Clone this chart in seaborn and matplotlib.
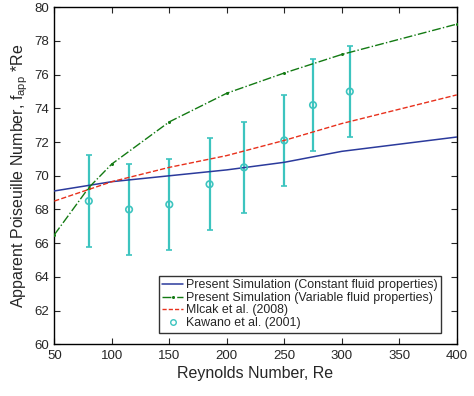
import numpy as np
import pandas as pd
import seaborn as sns
import matplotlib
matplotlib.use("Agg")
import matplotlib.pyplot as plt

# Present simulation, constant fluid properties
re_const = [50, 100, 150, 200, 250, 300, 400]
fre_const = [69.1, 69.65, 70.0, 70.35, 70.8, 71.45, 72.3]

# Present simulation, variable fluid properties
re_var = [50, 80, 100, 150, 200, 250, 300, 400]
fre_var = [66.5, 69.3, 70.7, 73.2, 74.9, 76.1, 77.2, 79.0]

# Mlcak et al. (2008)
re_mlcak = [50, 100, 150, 200, 250, 300, 400]
fre_mlcak = [68.5, 69.65, 70.5, 71.2, 72.1, 73.1, 74.8]

# Kawano et al. (2001) experimental points with error bars
re_kaw = [80, 115, 150, 185, 215, 250, 275, 307]
fre_kaw = [68.5, 68.0, 68.3, 69.5, 70.5, 72.1, 74.2, 75.0]
err_kaw = [2.73, 2.72, 2.72, 2.72, 2.72, 2.71, 2.72, 2.71]

sns.set_style("ticks")
plt.rcParams['font.family'] = ['Liberation Sans', 'DejaVu Sans']
plt.rcParams['mathtext.fontset'] = 'custom'
plt.rcParams['mathtext.rm'] = 'Liberation Sans'

fig = plt.figure(figsize=(4.74, 3.96), dpi=100)
ax = fig.add_axes([0.1146, 0.1306, 0.849, 0.851])

blue = '#2b3a9c'
green = '#137a13'
red = '#e8301c'
cyan = '#3cc4bf'

df_const = pd.DataFrame({'Re': re_const, 'fRe': fre_const})
df_var = pd.DataFrame({'Re': re_var, 'fRe': fre_var})
df_mlcak = pd.DataFrame({'Re': re_mlcak, 'fRe': fre_mlcak})
df_kaw = pd.DataFrame({'Re': re_kaw, 'fRe': fre_kaw, 'err': err_kaw})

ax.errorbar(df_kaw['Re'], df_kaw['fRe'], yerr=df_kaw['err'], fmt='none',
            ecolor=cyan, elinewidth=1.6, capsize=2.4, capthick=1.2, zorder=2)
sns.lineplot(data=df_const, x='Re', y='fRe', ax=ax, color=blue, lw=1.1,
             zorder=3)
sns.lineplot(data=df_var, x='Re', y='fRe', ax=ax, color=green, lw=1.0,
             linestyle='-.', marker='o', markersize=2.2, markeredgewidth=0,
             zorder=3)
sns.lineplot(data=df_mlcak, x='Re', y='fRe', ax=ax, color=red, lw=1.0,
             linestyle='--', dashes=(3, 1.5), zorder=3)
sns.scatterplot(data=df_kaw, x='Re', y='fRe', ax=ax, marker='o', s=22,
                facecolor='none', edgecolor=cyan, linewidth=1.2, zorder=4)

ax.set_xlim(50, 400)
ax.set_ylim(60, 80)
ax.set_xticks(np.arange(50, 401, 50))
ax.set_yticks(np.arange(60, 81, 2))
ax.tick_params(direction='in', top=True, right=True, labelsize=9.5,
               length=4, width=0.8, pad=4)
for sp in ax.spines.values():
    sp.set_linewidth(1.0)
    sp.set_color('black')

ax.set_xlabel('Reynolds Number, Re', fontsize=11.5, labelpad=3)
ax.set_ylabel(r'Apparent Poiseuille Number, f$_\mathregular{app}$ *Re',
              fontsize=11.5, labelpad=3)

handles = [
    plt.Line2D([], [], color=blue, lw=1.1),
    plt.Line2D([], [], color=green, lw=1.0, linestyle='-.', marker='o',
               markersize=2.2, markeredgewidth=0),
    plt.Line2D([], [], color=red, lw=1.0, linestyle='--', dashes=(3, 1.5)),
    plt.Line2D([], [], color=cyan, lw=0, marker='o', markersize=4,
               markerfacecolor='none', markeredgewidth=1.0),
]
labels = ['Present Simulation (Constant fluid properties)',
          'Present Simulation (Variable fluid properties)',
          'Mlcak et al. (2008)',
          'Kawano et al. (2001)']
leg = ax.legend(handles, labels, loc='lower right',
                bbox_to_anchor=(0.961, 0.034), borderaxespad=0,
                fontsize=8.9, frameon=True, fancybox=False,
                edgecolor='black', handlelength=1.7, handletextpad=0.2,
                labelspacing=0.05, borderpad=0.3)
leg.get_frame().set_linewidth(1.0)

fig.savefig('out.png', dpi=100)
